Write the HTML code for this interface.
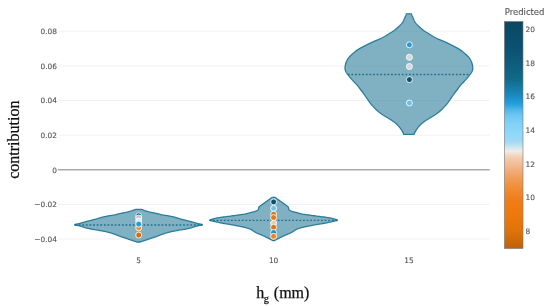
<!DOCTYPE html>
<html><head><meta charset="utf-8"><style>
html,body{margin:0;padding:0;background:#fff;}
svg{display:block;}
.t{font-family:"DejaVu Sans",sans-serif;font-size:7.4px;fill:#555555;stroke:#555555;stroke-width:0.12px;}
.ti{font-family:"Liberation Serif",serif;font-size:16px;fill:#111;stroke:#111;stroke-width:0.25px;}
</style></head><body>
<svg width="550" height="307" viewBox="0 0 550 307">
<rect width="550" height="307" fill="#fff"/>
<line x1="57.8" x2="489.8" y1="31.28" y2="31.28" stroke="#f2f2f2" stroke-width="1"/><line x1="57.8" x2="489.8" y1="65.91" y2="65.91" stroke="#f2f2f2" stroke-width="1"/><line x1="57.8" x2="489.8" y1="100.54" y2="100.54" stroke="#f2f2f2" stroke-width="1"/><line x1="57.8" x2="489.8" y1="135.17" y2="135.17" stroke="#f2f2f2" stroke-width="1"/><line x1="57.8" x2="489.8" y1="204.43" y2="204.43" stroke="#f2f2f2" stroke-width="1"/><line x1="57.8" x2="489.8" y1="239.06" y2="239.06" stroke="#f2f2f2" stroke-width="1"/>
<line x1="57.8" x2="489.8" y1="169.8" y2="169.8" stroke="#a9a9a9" stroke-width="1.6"/>
<path d="M141.12,209.30 L141.49,209.44 L141.92,209.57 L142.36,209.71 L142.76,209.85 L143.13,209.98 L143.47,210.12 L143.79,210.26 L144.12,210.39 L144.47,210.53 L144.85,210.67 L145.26,210.81 L145.69,210.94 L146.14,211.08 L146.61,211.22 L147.09,211.35 L147.57,211.49 L148.07,211.63 L148.57,211.76 L149.08,211.90 L149.62,212.04 L150.17,212.17 L150.75,212.31 L151.37,212.45 L152.04,212.58 L152.74,212.72 L153.47,212.86 L154.23,212.99 L154.98,213.13 L155.70,213.27 L156.39,213.40 L157.03,213.54 L157.61,213.68 L158.14,213.82 L158.64,213.95 L159.12,214.09 L159.59,214.23 L160.07,214.36 L160.57,214.50 L161.11,214.64 L161.71,214.77 L162.38,214.91 L163.12,215.05 L163.94,215.18 L164.80,215.32 L165.69,215.46 L166.58,215.59 L167.45,215.73 L168.27,215.87 L169.06,216.00 L169.82,216.14 L170.54,216.28 L171.24,216.41 L171.91,216.55 L172.56,216.69 L173.17,216.83 L173.76,216.96 L174.32,217.10 L174.85,217.24 L175.36,217.37 L175.84,217.51 L176.30,217.65 L176.75,217.78 L177.19,217.92 L177.62,218.06 L178.05,218.19 L178.48,218.33 L178.92,218.47 L179.37,218.60 L179.83,218.74 L180.31,218.88 L180.80,219.01 L181.30,219.15 L181.81,219.29 L182.33,219.42 L182.86,219.56 L183.38,219.70 L183.92,219.84 L184.45,219.97 L184.98,220.11 L185.51,220.25 L186.04,220.38 L186.57,220.52 L187.10,220.66 L187.63,220.79 L188.16,220.93 L188.69,221.07 L189.22,221.20 L189.75,221.34 L190.28,221.48 L190.80,221.61 L191.32,221.75 L191.83,221.89 L192.34,222.02 L192.83,222.16 L193.32,222.30 L193.80,222.43 L194.28,222.57 L194.74,222.71 L195.21,222.85 L195.68,222.98 L196.16,223.12 L196.66,223.26 L197.20,223.39 L197.76,223.53 L198.38,223.67 L199.03,223.80 L199.71,223.94 L200.39,224.08 L201.02,224.21 L201.58,224.35 L202.03,224.49 L202.31,224.62 L202.40,224.76 L202.27,224.90 L201.93,225.03 L201.39,225.17 L200.69,225.31 L199.89,225.44 L199.05,225.58 L198.24,225.72 L197.49,225.86 L196.83,225.99 L196.26,226.13 L195.78,226.27 L195.36,226.40 L194.98,226.54 L194.62,226.68 L194.27,226.81 L193.92,226.95 L193.55,227.09 L193.16,227.22 L192.75,227.36 L192.31,227.50 L191.85,227.63 L191.37,227.77 L190.86,227.91 L190.34,228.04 L189.79,228.18 L189.22,228.32 L188.63,228.45 L188.00,228.59 L187.35,228.73 L186.66,228.87 L185.95,229.00 L185.21,229.14 L184.46,229.28 L183.69,229.41 L182.92,229.55 L182.14,229.69 L181.35,229.82 L180.55,229.96 L179.75,230.10 L178.94,230.23 L178.13,230.37 L177.32,230.51 L176.53,230.64 L175.75,230.78 L175.00,230.92 L174.27,231.05 L173.57,231.19 L172.88,231.33 L172.21,231.46 L171.56,231.60 L170.93,231.74 L170.32,231.88 L169.73,232.01 L169.16,232.15 L168.61,232.29 L168.09,232.42 L167.59,232.56 L167.11,232.70 L166.64,232.83 L166.19,232.97 L165.75,233.11 L165.31,233.24 L164.88,233.38 L164.45,233.52 L164.02,233.65 L163.60,233.79 L163.19,233.93 L162.77,234.06 L162.37,234.20 L161.98,234.34 L161.60,234.47 L161.23,234.61 L160.87,234.75 L160.52,234.89 L160.17,235.02 L159.84,235.16 L159.51,235.30 L159.18,235.43 L158.86,235.57 L158.53,235.71 L158.21,235.84 L157.87,235.98 L157.54,236.12 L157.19,236.25 L156.83,236.39 L156.47,236.53 L156.09,236.66 L155.70,236.80 L155.29,236.94 L154.88,237.07 L154.45,237.21 L154.02,237.35 L153.59,237.48 L153.15,237.62 L152.71,237.76 L152.28,237.90 L151.85,238.03 L151.42,238.17 L151.00,238.31 L150.59,238.44 L150.19,238.58 L149.79,238.72 L149.40,238.85 L149.01,238.99 L148.63,239.13 L148.25,239.26 L147.87,239.40 L147.48,239.54 L147.10,239.67 L146.71,239.81 L146.32,239.95 L145.92,240.08 L145.52,240.22 L145.10,240.36 L144.68,240.49 L144.26,240.63 L143.82,240.77 L143.39,240.91 L142.95,241.04 L142.52,241.18 L142.09,241.32 L141.67,241.45 L141.27,241.59 L140.91,241.73 L140.59,241.86 L140.35,242.00 L136.65,242.00 L136.41,241.86 L136.09,241.73 L135.73,241.59 L135.33,241.45 L134.91,241.32 L134.48,241.18 L134.05,241.04 L133.61,240.91 L133.18,240.77 L132.74,240.63 L132.32,240.49 L131.90,240.36 L131.48,240.22 L131.08,240.08 L130.68,239.95 L130.29,239.81 L129.90,239.67 L129.52,239.54 L129.13,239.40 L128.75,239.26 L128.37,239.13 L127.99,238.99 L127.60,238.85 L127.21,238.72 L126.81,238.58 L126.41,238.44 L126.00,238.31 L125.58,238.17 L125.15,238.03 L124.72,237.90 L124.29,237.76 L123.85,237.62 L123.41,237.48 L122.98,237.35 L122.55,237.21 L122.12,237.07 L121.71,236.94 L121.30,236.80 L120.91,236.66 L120.53,236.53 L120.17,236.39 L119.81,236.25 L119.46,236.12 L119.13,235.98 L118.79,235.84 L118.47,235.71 L118.14,235.57 L117.82,235.43 L117.49,235.30 L117.16,235.16 L116.83,235.02 L116.48,234.89 L116.13,234.75 L115.77,234.61 L115.40,234.47 L115.02,234.34 L114.63,234.20 L114.23,234.06 L113.81,233.93 L113.40,233.79 L112.98,233.65 L112.55,233.52 L112.12,233.38 L111.69,233.24 L111.25,233.11 L110.81,232.97 L110.36,232.83 L109.89,232.70 L109.41,232.56 L108.91,232.42 L108.39,232.29 L107.84,232.15 L107.27,232.01 L106.68,231.88 L106.07,231.74 L105.44,231.60 L104.79,231.46 L104.12,231.33 L103.43,231.19 L102.73,231.05 L102.00,230.92 L101.25,230.78 L100.47,230.64 L99.68,230.51 L98.87,230.37 L98.06,230.23 L97.25,230.10 L96.45,229.96 L95.65,229.82 L94.86,229.69 L94.08,229.55 L93.31,229.41 L92.54,229.28 L91.79,229.14 L91.05,229.00 L90.34,228.87 L89.65,228.73 L89.00,228.59 L88.37,228.45 L87.78,228.32 L87.21,228.18 L86.66,228.04 L86.14,227.91 L85.63,227.77 L85.15,227.63 L84.69,227.50 L84.25,227.36 L83.84,227.22 L83.45,227.09 L83.08,226.95 L82.73,226.81 L82.38,226.68 L82.02,226.54 L81.64,226.40 L81.22,226.27 L80.74,226.13 L80.17,225.99 L79.51,225.86 L78.76,225.72 L77.95,225.58 L77.11,225.44 L76.31,225.31 L75.61,225.17 L75.07,225.03 L74.73,224.90 L74.60,224.76 L74.69,224.62 L74.97,224.49 L75.42,224.35 L75.98,224.21 L76.61,224.08 L77.29,223.94 L77.97,223.80 L78.62,223.67 L79.24,223.53 L79.80,223.39 L80.34,223.26 L80.84,223.12 L81.32,222.98 L81.79,222.85 L82.26,222.71 L82.72,222.57 L83.20,222.43 L83.68,222.30 L84.17,222.16 L84.66,222.02 L85.17,221.89 L85.68,221.75 L86.20,221.61 L86.72,221.48 L87.25,221.34 L87.78,221.20 L88.31,221.07 L88.84,220.93 L89.37,220.79 L89.90,220.66 L90.43,220.52 L90.96,220.38 L91.49,220.25 L92.02,220.11 L92.55,219.97 L93.08,219.84 L93.62,219.70 L94.14,219.56 L94.67,219.42 L95.19,219.29 L95.70,219.15 L96.20,219.01 L96.69,218.88 L97.17,218.74 L97.63,218.60 L98.08,218.47 L98.52,218.33 L98.95,218.19 L99.38,218.06 L99.81,217.92 L100.25,217.78 L100.70,217.65 L101.16,217.51 L101.64,217.37 L102.15,217.24 L102.68,217.10 L103.24,216.96 L103.83,216.83 L104.44,216.69 L105.09,216.55 L105.76,216.41 L106.46,216.28 L107.18,216.14 L107.94,216.00 L108.73,215.87 L109.55,215.73 L110.42,215.59 L111.31,215.46 L112.20,215.32 L113.06,215.18 L113.88,215.05 L114.62,214.91 L115.29,214.77 L115.89,214.64 L116.43,214.50 L116.93,214.36 L117.41,214.23 L117.88,214.09 L118.36,213.95 L118.86,213.82 L119.39,213.68 L119.97,213.54 L120.61,213.40 L121.30,213.27 L122.02,213.13 L122.77,212.99 L123.53,212.86 L124.26,212.72 L124.96,212.58 L125.63,212.45 L126.25,212.31 L126.83,212.17 L127.38,212.04 L127.92,211.90 L128.43,211.76 L128.93,211.63 L129.43,211.49 L129.91,211.35 L130.39,211.22 L130.86,211.08 L131.31,210.94 L131.74,210.81 L132.15,210.67 L132.53,210.53 L132.88,210.39 L133.21,210.26 L133.53,210.12 L133.87,209.98 L134.24,209.85 L134.64,209.71 L135.08,209.57 L135.51,209.44 L135.88,209.30 Z" fill="rgba(43,125,155,0.6)" fill-opacity="1" stroke="#2c7d9b" stroke-width="1.3" stroke-linejoin="round"/><line x1="75.08" x2="201.92" y1="225.0" y2="225.0" stroke="#236f8d" stroke-width="1.3" stroke-dasharray="1.8,1.8"/><path d="M275.24,197.30 L275.37,197.48 L275.55,197.66 L275.76,197.84 L275.98,198.02 L276.21,198.20 L276.45,198.38 L276.69,198.57 L276.93,198.75 L277.18,198.93 L277.43,199.11 L277.68,199.29 L277.94,199.47 L278.20,199.65 L278.45,199.83 L278.71,200.01 L278.97,200.19 L279.22,200.37 L279.47,200.55 L279.73,200.73 L279.98,200.92 L280.23,201.10 L280.49,201.28 L280.74,201.46 L280.99,201.64 L281.25,201.82 L281.50,202.00 L281.75,202.18 L282.00,202.36 L282.26,202.54 L282.51,202.72 L282.77,202.90 L283.02,203.08 L283.27,203.26 L283.53,203.45 L283.79,203.63 L284.04,203.81 L284.30,203.99 L284.56,204.17 L284.81,204.35 L285.06,204.53 L285.31,204.71 L285.56,204.89 L285.81,205.07 L286.06,205.25 L286.33,205.43 L286.59,205.61 L286.85,205.80 L287.11,205.98 L287.35,206.16 L287.58,206.34 L287.78,206.52 L287.95,206.70 L288.09,206.88 L288.20,207.06 L288.28,207.24 L288.35,207.42 L288.41,207.60 L288.46,207.78 L288.51,207.96 L288.56,208.15 L288.60,208.33 L288.64,208.51 L288.68,208.69 L288.72,208.87 L288.75,209.05 L288.80,209.23 L288.86,209.41 L288.95,209.59 L289.08,209.77 L289.26,209.95 L289.48,210.13 L289.75,210.31 L290.06,210.49 L290.41,210.68 L290.80,210.86 L291.25,211.04 L291.75,211.22 L292.29,211.40 L292.88,211.58 L293.49,211.76 L294.11,211.94 L294.76,212.12 L295.43,212.30 L296.11,212.48 L296.80,212.66 L297.49,212.84 L298.16,213.03 L298.82,213.21 L299.48,213.39 L300.15,213.57 L300.87,213.75 L301.66,213.93 L302.57,214.11 L303.61,214.29 L304.77,214.47 L306.03,214.65 L307.35,214.83 L308.69,215.01 L310.03,215.19 L311.37,215.38 L312.72,215.56 L314.07,215.74 L315.43,215.92 L316.79,216.10 L318.15,216.28 L319.53,216.46 L320.92,216.64 L322.34,216.82 L323.77,217.00 L325.20,217.18 L326.56,217.36 L327.81,217.54 L328.92,217.73 L329.91,217.91 L330.79,218.09 L331.59,218.27 L332.34,218.45 L333.03,218.63 L333.69,218.81 L334.31,218.99 L334.89,219.17 L335.46,219.35 L336.01,219.53 L336.52,219.71 L336.97,219.89 L337.27,220.07 L337.36,220.26 L337.19,220.44 L336.73,220.62 L336.05,220.80 L335.23,220.98 L334.36,221.16 L333.49,221.34 L332.65,221.52 L331.83,221.70 L331.02,221.88 L330.22,222.06 L329.43,222.24 L328.65,222.42 L327.85,222.61 L327.03,222.79 L326.15,222.97 L325.20,223.15 L324.19,223.33 L323.12,223.51 L322.02,223.69 L320.91,223.87 L319.79,224.05 L318.68,224.23 L317.58,224.41 L316.50,224.59 L315.44,224.77 L314.42,224.96 L313.44,225.14 L312.50,225.32 L311.58,225.50 L310.68,225.68 L309.78,225.86 L308.87,226.04 L307.95,226.22 L307.03,226.40 L306.12,226.58 L305.25,226.76 L304.42,226.94 L303.63,227.12 L302.88,227.31 L302.16,227.49 L301.48,227.67 L300.83,227.85 L300.20,228.03 L299.59,228.21 L299.01,228.39 L298.44,228.57 L297.89,228.75 L297.38,228.93 L296.92,229.11 L296.50,229.29 L296.13,229.47 L295.81,229.65 L295.53,229.84 L295.26,230.02 L295.01,230.20 L294.76,230.38 L294.51,230.56 L294.24,230.74 L293.98,230.92 L293.71,231.10 L293.43,231.28 L293.15,231.46 L292.86,231.64 L292.56,231.82 L292.26,232.00 L291.94,232.19 L291.62,232.37 L291.29,232.55 L290.94,232.73 L290.59,232.91 L290.22,233.09 L289.85,233.27 L289.46,233.45 L289.06,233.63 L288.65,233.81 L288.23,233.99 L287.78,234.17 L287.31,234.35 L286.83,234.54 L286.34,234.72 L285.85,234.90 L285.39,235.08 L284.95,235.26 L284.56,235.44 L284.19,235.62 L283.84,235.80 L283.50,235.98 L283.15,236.16 L282.79,236.34 L282.42,236.52 L282.04,236.70 L281.66,236.88 L281.28,237.07 L280.91,237.25 L280.54,237.43 L280.18,237.61 L279.82,237.79 L279.46,237.97 L279.10,238.15 L278.74,238.33 L278.38,238.51 L278.01,238.69 L277.65,238.87 L277.29,239.05 L276.93,239.23 L276.57,239.42 L276.22,239.60 L275.88,239.78 L275.56,239.96 L275.25,240.14 L274.99,240.32 L274.80,240.50 L272.40,240.50 L272.21,240.32 L271.95,240.14 L271.64,239.96 L271.32,239.78 L270.98,239.60 L270.63,239.42 L270.27,239.23 L269.91,239.05 L269.55,238.87 L269.19,238.69 L268.82,238.51 L268.46,238.33 L268.10,238.15 L267.74,237.97 L267.38,237.79 L267.02,237.61 L266.66,237.43 L266.29,237.25 L265.92,237.07 L265.54,236.88 L265.16,236.70 L264.78,236.52 L264.41,236.34 L264.05,236.16 L263.70,235.98 L263.36,235.80 L263.01,235.62 L262.64,235.44 L262.25,235.26 L261.81,235.08 L261.35,234.90 L260.86,234.72 L260.37,234.54 L259.89,234.35 L259.42,234.17 L258.97,233.99 L258.55,233.81 L258.14,233.63 L257.74,233.45 L257.35,233.27 L256.98,233.09 L256.61,232.91 L256.26,232.73 L255.91,232.55 L255.58,232.37 L255.26,232.19 L254.94,232.00 L254.64,231.82 L254.34,231.64 L254.05,231.46 L253.77,231.28 L253.49,231.10 L253.22,230.92 L252.96,230.74 L252.69,230.56 L252.44,230.38 L252.19,230.20 L251.94,230.02 L251.67,229.84 L251.39,229.65 L251.07,229.47 L250.70,229.29 L250.28,229.11 L249.82,228.93 L249.31,228.75 L248.76,228.57 L248.19,228.39 L247.61,228.21 L247.00,228.03 L246.37,227.85 L245.72,227.67 L245.04,227.49 L244.32,227.31 L243.57,227.12 L242.78,226.94 L241.95,226.76 L241.08,226.58 L240.17,226.40 L239.25,226.22 L238.33,226.04 L237.42,225.86 L236.52,225.68 L235.62,225.50 L234.70,225.32 L233.76,225.14 L232.78,224.96 L231.76,224.77 L230.70,224.59 L229.62,224.41 L228.52,224.23 L227.41,224.05 L226.29,223.87 L225.18,223.69 L224.08,223.51 L223.01,223.33 L222.00,223.15 L221.05,222.97 L220.17,222.79 L219.35,222.61 L218.55,222.42 L217.77,222.24 L216.98,222.06 L216.18,221.88 L215.37,221.70 L214.55,221.52 L213.71,221.34 L212.84,221.16 L211.97,220.98 L211.15,220.80 L210.47,220.62 L210.01,220.44 L209.84,220.26 L209.93,220.07 L210.23,219.89 L210.68,219.71 L211.19,219.53 L211.74,219.35 L212.31,219.17 L212.89,218.99 L213.51,218.81 L214.17,218.63 L214.86,218.45 L215.61,218.27 L216.41,218.09 L217.29,217.91 L218.28,217.73 L219.39,217.54 L220.64,217.36 L222.00,217.18 L223.43,217.00 L224.86,216.82 L226.28,216.64 L227.67,216.46 L229.05,216.28 L230.41,216.10 L231.77,215.92 L233.13,215.74 L234.48,215.56 L235.83,215.38 L237.17,215.19 L238.51,215.01 L239.85,214.83 L241.17,214.65 L242.43,214.47 L243.59,214.29 L244.63,214.11 L245.54,213.93 L246.33,213.75 L247.05,213.57 L247.72,213.39 L248.38,213.21 L249.04,213.03 L249.71,212.84 L250.40,212.66 L251.09,212.48 L251.77,212.30 L252.44,212.12 L253.09,211.94 L253.71,211.76 L254.32,211.58 L254.91,211.40 L255.45,211.22 L255.95,211.04 L256.40,210.86 L256.79,210.68 L257.14,210.49 L257.45,210.31 L257.72,210.13 L257.94,209.95 L258.12,209.77 L258.25,209.59 L258.34,209.41 L258.40,209.23 L258.45,209.05 L258.48,208.87 L258.52,208.69 L258.56,208.51 L258.60,208.33 L258.64,208.15 L258.69,207.96 L258.74,207.78 L258.79,207.60 L258.85,207.42 L258.92,207.24 L259.00,207.06 L259.11,206.88 L259.25,206.70 L259.42,206.52 L259.62,206.34 L259.85,206.16 L260.09,205.98 L260.35,205.80 L260.61,205.61 L260.87,205.43 L261.14,205.25 L261.39,205.07 L261.64,204.89 L261.89,204.71 L262.14,204.53 L262.39,204.35 L262.64,204.17 L262.90,203.99 L263.16,203.81 L263.41,203.63 L263.67,203.45 L263.93,203.26 L264.18,203.08 L264.43,202.90 L264.69,202.72 L264.94,202.54 L265.20,202.36 L265.45,202.18 L265.70,202.00 L265.95,201.82 L266.21,201.64 L266.46,201.46 L266.71,201.28 L266.97,201.10 L267.22,200.92 L267.47,200.73 L267.73,200.55 L267.98,200.37 L268.23,200.19 L268.49,200.01 L268.75,199.83 L269.00,199.65 L269.26,199.47 L269.52,199.29 L269.77,199.11 L270.02,198.93 L270.27,198.75 L270.51,198.57 L270.75,198.38 L270.99,198.20 L271.22,198.02 L271.44,197.84 L271.65,197.66 L271.83,197.48 L271.96,197.30 Z" fill="rgba(43,125,155,0.6)" fill-opacity="1" stroke="#2c7d9b" stroke-width="1.3" stroke-linejoin="round"/><line x1="209.40" x2="337.80" y1="220.3" y2="220.3" stroke="#236f8d" stroke-width="1.3" stroke-dasharray="1.8,1.8"/><path d="M411.42,13.80 L411.56,14.30 L411.73,14.81 L411.92,15.31 L412.13,15.82 L412.35,16.32 L412.57,16.83 L412.79,17.33 L413.00,17.84 L413.22,18.34 L413.43,18.85 L413.64,19.35 L413.85,19.86 L414.07,20.36 L414.31,20.86 L414.57,21.37 L414.86,21.87 L415.18,22.38 L415.55,22.88 L415.95,23.39 L416.39,23.89 L416.86,24.40 L417.35,24.90 L417.86,25.41 L418.39,25.91 L418.93,26.42 L419.48,26.92 L420.05,27.42 L420.62,27.93 L421.19,28.43 L421.78,28.94 L422.38,29.44 L423.01,29.95 L423.67,30.45 L424.39,30.96 L425.14,31.46 L425.93,31.97 L426.75,32.47 L427.58,32.97 L428.39,33.48 L429.20,33.98 L429.99,34.49 L430.78,34.99 L431.56,35.50 L432.37,36.00 L433.20,36.51 L434.09,37.01 L435.04,37.52 L436.06,38.02 L437.16,38.53 L438.31,39.03 L439.50,39.53 L440.71,40.04 L441.92,40.54 L443.10,41.05 L444.26,41.55 L445.39,42.06 L446.47,42.56 L447.53,43.07 L448.56,43.57 L449.57,44.08 L450.57,44.58 L451.56,45.09 L452.55,45.59 L453.54,46.09 L454.51,46.60 L455.47,47.10 L456.40,47.61 L457.30,48.11 L458.16,48.62 L458.99,49.12 L459.78,49.63 L460.54,50.13 L461.27,50.64 L461.97,51.14 L462.65,51.65 L463.30,52.15 L463.93,52.65 L464.54,53.16 L465.13,53.66 L465.69,54.17 L466.24,54.67 L466.78,55.18 L467.29,55.68 L467.77,56.19 L468.23,56.69 L468.66,57.20 L469.06,57.70 L469.43,58.21 L469.77,58.71 L470.09,59.21 L470.39,59.72 L470.67,60.22 L470.93,60.73 L471.18,61.23 L471.41,61.74 L471.61,62.24 L471.80,62.75 L471.97,63.25 L472.12,63.76 L472.25,64.26 L472.37,64.76 L472.48,65.27 L472.58,65.77 L472.66,66.28 L472.73,66.78 L472.78,67.29 L472.80,67.79 L472.80,68.30 L472.77,68.80 L472.70,69.31 L472.60,69.81 L472.47,70.32 L472.29,70.82 L472.08,71.32 L471.82,71.83 L471.53,72.33 L471.20,72.84 L470.85,73.34 L470.48,73.85 L470.10,74.35 L469.72,74.86 L469.34,75.36 L468.96,75.87 L468.58,76.37 L468.19,76.88 L467.79,77.38 L467.38,77.88 L466.96,78.39 L466.53,78.89 L466.08,79.40 L465.61,79.90 L465.13,80.41 L464.64,80.91 L464.14,81.42 L463.64,81.92 L463.15,82.43 L462.66,82.93 L462.19,83.44 L461.74,83.94 L461.30,84.44 L460.88,84.95 L460.46,85.45 L460.06,85.96 L459.66,86.46 L459.27,86.97 L458.88,87.47 L458.49,87.98 L458.10,88.48 L457.71,88.99 L457.32,89.49 L456.93,89.99 L456.53,90.50 L456.14,91.00 L455.74,91.51 L455.35,92.01 L454.96,92.52 L454.57,93.02 L454.20,93.53 L453.82,94.03 L453.45,94.54 L453.09,95.04 L452.74,95.55 L452.38,96.05 L452.03,96.55 L451.69,97.06 L451.34,97.56 L451.00,98.07 L450.66,98.57 L450.32,99.08 L449.99,99.58 L449.66,100.09 L449.32,100.59 L448.98,101.10 L448.64,101.60 L448.29,102.11 L447.93,102.61 L447.55,103.11 L447.16,103.62 L446.76,104.12 L446.35,104.63 L445.92,105.13 L445.48,105.64 L445.03,106.14 L444.57,106.65 L444.10,107.15 L443.61,107.66 L443.11,108.16 L442.60,108.67 L442.07,109.17 L441.53,109.67 L440.98,110.18 L440.41,110.68 L439.82,111.19 L439.22,111.69 L438.60,112.20 L437.96,112.70 L437.30,113.21 L436.62,113.71 L435.91,114.22 L435.18,114.72 L434.41,115.23 L433.62,115.73 L432.80,116.23 L431.96,116.74 L431.12,117.24 L430.28,117.75 L429.45,118.25 L428.64,118.76 L427.84,119.26 L427.05,119.77 L426.28,120.27 L425.53,120.78 L424.79,121.28 L424.08,121.78 L423.39,122.29 L422.73,122.79 L422.11,123.30 L421.52,123.80 L420.96,124.31 L420.44,124.81 L419.94,125.32 L419.47,125.82 L419.01,126.33 L418.58,126.83 L418.16,127.34 L417.76,127.84 L417.38,128.34 L417.02,128.85 L416.67,129.35 L416.33,129.86 L416.01,130.36 L415.70,130.87 L415.41,131.37 L415.13,131.88 L414.87,132.38 L414.63,132.89 L414.42,133.39 L414.24,133.90 L414.11,134.40 L403.69,134.40 L403.56,133.90 L403.38,133.39 L403.17,132.89 L402.93,132.38 L402.67,131.88 L402.39,131.37 L402.10,130.87 L401.79,130.36 L401.47,129.86 L401.13,129.35 L400.78,128.85 L400.42,128.34 L400.04,127.84 L399.64,127.34 L399.22,126.83 L398.79,126.33 L398.33,125.82 L397.86,125.32 L397.36,124.81 L396.84,124.31 L396.28,123.80 L395.69,123.30 L395.07,122.79 L394.41,122.29 L393.72,121.78 L393.01,121.28 L392.27,120.78 L391.52,120.27 L390.75,119.77 L389.96,119.26 L389.16,118.76 L388.35,118.25 L387.52,117.75 L386.68,117.24 L385.84,116.74 L385.00,116.23 L384.18,115.73 L383.39,115.23 L382.62,114.72 L381.89,114.22 L381.18,113.71 L380.50,113.21 L379.84,112.70 L379.20,112.20 L378.58,111.69 L377.98,111.19 L377.39,110.68 L376.82,110.18 L376.27,109.67 L375.73,109.17 L375.20,108.67 L374.69,108.16 L374.19,107.66 L373.70,107.15 L373.23,106.65 L372.77,106.14 L372.32,105.64 L371.88,105.13 L371.45,104.63 L371.04,104.12 L370.64,103.62 L370.25,103.11 L369.87,102.61 L369.51,102.11 L369.16,101.60 L368.82,101.10 L368.48,100.59 L368.14,100.09 L367.81,99.58 L367.48,99.08 L367.14,98.57 L366.80,98.07 L366.46,97.56 L366.11,97.06 L365.77,96.55 L365.42,96.05 L365.06,95.55 L364.71,95.04 L364.35,94.54 L363.98,94.03 L363.60,93.53 L363.23,93.02 L362.84,92.52 L362.45,92.01 L362.06,91.51 L361.66,91.00 L361.27,90.50 L360.87,89.99 L360.48,89.49 L360.09,88.99 L359.70,88.48 L359.31,87.98 L358.92,87.47 L358.53,86.97 L358.14,86.46 L357.74,85.96 L357.34,85.45 L356.92,84.95 L356.50,84.44 L356.06,83.94 L355.61,83.44 L355.14,82.93 L354.65,82.43 L354.16,81.92 L353.66,81.42 L353.16,80.91 L352.67,80.41 L352.19,79.90 L351.72,79.40 L351.27,78.89 L350.84,78.39 L350.42,77.88 L350.01,77.38 L349.61,76.88 L349.22,76.37 L348.84,75.87 L348.46,75.36 L348.08,74.86 L347.70,74.35 L347.32,73.85 L346.95,73.34 L346.60,72.84 L346.27,72.33 L345.98,71.83 L345.72,71.32 L345.51,70.82 L345.33,70.32 L345.20,69.81 L345.10,69.31 L345.03,68.80 L345.00,68.30 L345.00,67.79 L345.02,67.29 L345.07,66.78 L345.14,66.28 L345.22,65.77 L345.32,65.27 L345.43,64.76 L345.55,64.26 L345.68,63.76 L345.83,63.25 L346.00,62.75 L346.19,62.24 L346.39,61.74 L346.62,61.23 L346.87,60.73 L347.13,60.22 L347.41,59.72 L347.71,59.21 L348.03,58.71 L348.37,58.21 L348.74,57.70 L349.14,57.20 L349.57,56.69 L350.03,56.19 L350.51,55.68 L351.02,55.18 L351.56,54.67 L352.11,54.17 L352.67,53.66 L353.26,53.16 L353.87,52.65 L354.50,52.15 L355.15,51.65 L355.83,51.14 L356.53,50.64 L357.26,50.13 L358.02,49.63 L358.81,49.12 L359.64,48.62 L360.50,48.11 L361.40,47.61 L362.33,47.10 L363.29,46.60 L364.26,46.09 L365.25,45.59 L366.24,45.09 L367.23,44.58 L368.23,44.08 L369.24,43.57 L370.27,43.07 L371.33,42.56 L372.41,42.06 L373.54,41.55 L374.70,41.05 L375.88,40.54 L377.09,40.04 L378.30,39.53 L379.49,39.03 L380.64,38.53 L381.74,38.02 L382.76,37.52 L383.71,37.01 L384.60,36.51 L385.43,36.00 L386.24,35.50 L387.02,34.99 L387.81,34.49 L388.60,33.98 L389.41,33.48 L390.22,32.97 L391.05,32.47 L391.87,31.97 L392.66,31.46 L393.41,30.96 L394.13,30.45 L394.79,29.95 L395.42,29.44 L396.02,28.94 L396.61,28.43 L397.18,27.93 L397.75,27.42 L398.32,26.92 L398.87,26.42 L399.41,25.91 L399.94,25.41 L400.45,24.90 L400.94,24.40 L401.41,23.89 L401.85,23.39 L402.25,22.88 L402.62,22.38 L402.94,21.87 L403.23,21.37 L403.49,20.86 L403.73,20.36 L403.95,19.86 L404.16,19.35 L404.37,18.85 L404.58,18.34 L404.80,17.84 L405.01,17.33 L405.23,16.83 L405.45,16.32 L405.67,15.82 L405.88,15.31 L406.07,14.81 L406.24,14.30 L406.38,13.80 Z" fill="rgba(43,125,155,0.6)" fill-opacity="1" stroke="#2c7d9b" stroke-width="1.3" stroke-linejoin="round"/><line x1="347.83" x2="469.97" y1="74.5" y2="74.5" stroke="#236f8d" stroke-width="1.3" stroke-dasharray="1.8,1.8"/>
<circle cx="138.70" cy="215.8" r="3.0" fill="#0e4f6d" stroke="#ffffff" stroke-opacity="0.85" stroke-width="1.0"/><circle cx="138.70" cy="217.9" r="3.0" fill="#bfc6ca" stroke="#ffffff" stroke-opacity="0.85" stroke-width="1.0"/><circle cx="138.70" cy="221.0" r="3.0" fill="#dbe9f0" stroke="#ffffff" stroke-opacity="0.85" stroke-width="1.0"/><circle cx="138.70" cy="227.8" r="3.0" fill="#f0902c" stroke="#ffffff" stroke-opacity="0.85" stroke-width="1.0"/><circle cx="138.70" cy="224.1" r="3.0" fill="#2a9ad6" stroke="#ffffff" stroke-opacity="0.85" stroke-width="1.0"/><circle cx="138.70" cy="235.1" r="3.0" fill="#d96b12" stroke="#ffffff" stroke-opacity="0.85" stroke-width="1.0"/><circle cx="273.60" cy="201.9" r="3.0" fill="#0e5070" stroke="#ffffff" stroke-opacity="0.85" stroke-width="1.0"/><circle cx="273.60" cy="208.3" r="3.0" fill="#6cc4ec" stroke="#ffffff" stroke-opacity="0.85" stroke-width="1.0"/><circle cx="273.60" cy="214.2" r="3.0" fill="#d97a20" stroke="#ffffff" stroke-opacity="0.85" stroke-width="1.0"/><circle cx="273.60" cy="217.6" r="3.0" fill="#e07a1a" stroke="#ffffff" stroke-opacity="0.85" stroke-width="1.0"/><circle cx="273.60" cy="223.2" r="3.0" fill="#f5c8a0" stroke="#ffffff" stroke-opacity="0.85" stroke-width="1.0"/><circle cx="273.60" cy="227.3" r="3.0" fill="#dc7618" stroke="#ffffff" stroke-opacity="0.85" stroke-width="1.0"/><circle cx="273.60" cy="232.6" r="3.0" fill="#2a8cb8" stroke="#ffffff" stroke-opacity="0.85" stroke-width="1.0"/><circle cx="273.60" cy="236.3" r="3.0" fill="#ec8424" stroke="#ffffff" stroke-opacity="0.85" stroke-width="1.0"/><circle cx="409.40" cy="44.8" r="3.0" fill="#2a9ad8" stroke="#ffffff" stroke-opacity="0.85" stroke-width="1.0"/><circle cx="409.40" cy="57.3" r="3.0" fill="#d3d9dc" stroke="#ffffff" stroke-opacity="0.85" stroke-width="1.0"/><circle cx="409.40" cy="66.5" r="3.0" fill="#d3d9dc" stroke="#ffffff" stroke-opacity="0.85" stroke-width="1.0"/><circle cx="409.40" cy="79.6" r="3.0" fill="#10506c" stroke="#ffffff" stroke-opacity="0.85" stroke-width="1.0"/><circle cx="409.40" cy="103.0" r="3.0" fill="#5ec3f0" stroke="#ffffff" stroke-opacity="0.85" stroke-width="1.0"/>
<g class="t"><text x="57" y="33.98" text-anchor="end">0.08</text><text x="57" y="68.61" text-anchor="end">0.06</text><text x="57" y="103.24" text-anchor="end">0.04</text><text x="57" y="137.87" text-anchor="end">0.02</text><text x="57" y="172.50" text-anchor="end">0</text><text x="57" y="207.13" text-anchor="end">−0.02</text><text x="57" y="241.76" text-anchor="end">−0.04</text><text x="138.5" y="263" text-anchor="middle">5</text><text x="273.6" y="263" text-anchor="middle">10</text><text x="408.9" y="263" text-anchor="middle">15</text></g>
<defs><linearGradient id="cg" x1="0" y1="0" x2="0" y2="1"><stop offset="0.0000" stop-color="#0a4864"/><stop offset="0.1256" stop-color="#0c5272"/><stop offset="0.2489" stop-color="#106888"/><stop offset="0.3018" stop-color="#167ead"/><stop offset="0.3326" stop-color="#1a8ec6"/><stop offset="0.3634" stop-color="#25a0dc"/><stop offset="0.3899" stop-color="#50b8ec"/><stop offset="0.4163" stop-color="#70c8f4"/><stop offset="0.4559" stop-color="#84d2f8"/><stop offset="0.5000" stop-color="#92d8f8"/><stop offset="0.5264" stop-color="#a0d8f6"/><stop offset="0.5441" stop-color="#b8e0f2"/><stop offset="0.5595" stop-color="#dde8ee"/><stop offset="0.5727" stop-color="#efebe6"/><stop offset="0.5859" stop-color="#f2dac8"/><stop offset="0.6013" stop-color="#f2ccb0"/><stop offset="0.6233" stop-color="#f2c09a"/><stop offset="0.6542" stop-color="#f2ae7c"/><stop offset="0.6982" stop-color="#f09a50"/><stop offset="0.7423" stop-color="#f08a30"/><stop offset="0.7863" stop-color="#f07d18"/><stop offset="0.8524" stop-color="#ee780c"/><stop offset="0.9185" stop-color="#e07408"/><stop offset="1.0000" stop-color="#c06008"/></linearGradient></defs><rect x="504.4" y="21.5" width="18.6" height="227.00" fill="url(#cg)" stroke="#777" stroke-width="0.6"/>
<g class="t"><text x="525.6" y="32.00">20</text><text x="525.6" y="65.66">18</text><text x="525.6" y="99.32">16</text><text x="525.6" y="132.98">14</text><text x="525.6" y="166.64">12</text><text x="525.6" y="200.30">10</text><text x="525.6" y="233.96">8</text></g>
<text class="t" x="504.8" y="15.1" style="font-size:8.45px">Predicted</text>
<text class="ti" transform="translate(18.9,139.7) rotate(-90)" text-anchor="middle">contribution</text>
<text class="ti" x="256.3" y="297.7">h<tspan x="263.8" dy="3.9" font-size="10.4px">g</tspan><tspan x="273.8" dy="-3.9">(mm)</tspan></text>
</svg>
</body></html>
